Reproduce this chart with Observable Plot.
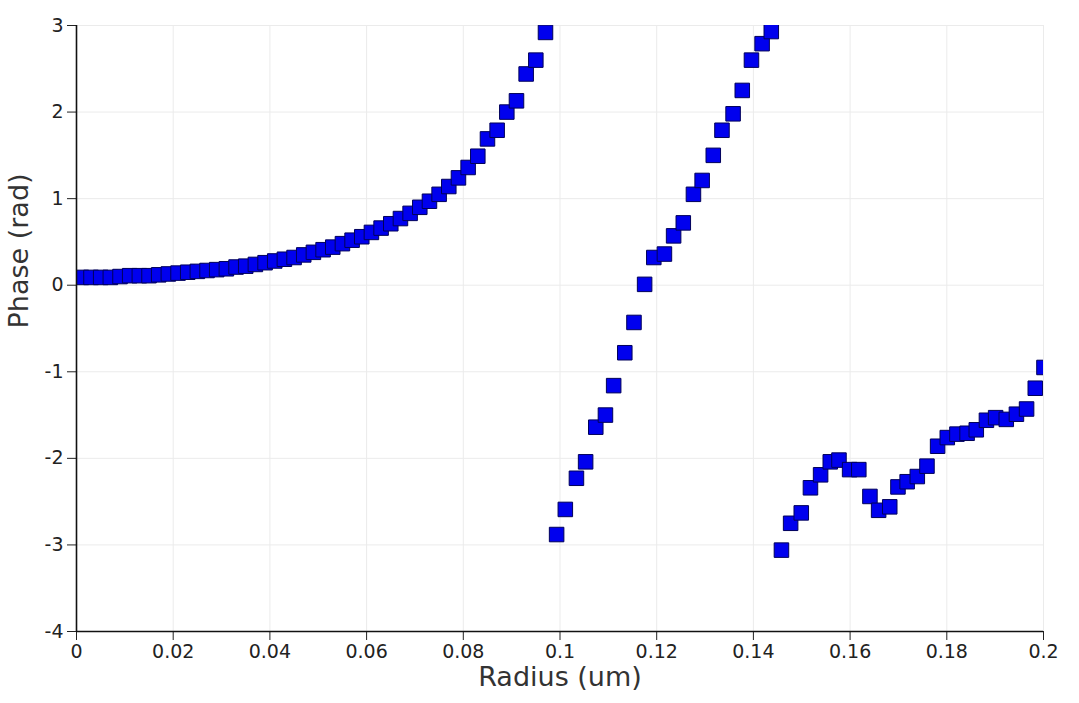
<!DOCTYPE html>
<html>
<head>
<meta charset="utf-8">
<script src="https://cdn.jsdelivr.net/npm/d3@7"></script>
<script src="https://cdn.jsdelivr.net/npm/@observablehq/plot@0.6"></script>
<style>
  html, body { margin: 0; padding: 0; background: #fff; }
  #chart svg { display: block; }
  #chart svg [aria-label^="x-axis"] text,
  #chart svg [aria-label^="y-axis"] text { font-size: 19px; fill: #222; }
</style>
</head>
<body>
<div id="chart"></div>
<script>
// Branch 1 (radius in um, phase in rad)
const branch1X = [0.001,0.003,0.005,0.007,0.009,0.011,0.013,0.015,0.017,0.019,
  0.021,0.023,0.025,0.027,0.029,0.031,0.033,0.035,0.037,0.039,
  0.041,0.043,0.045,0.047,0.049,0.051,0.053,0.055,0.057,0.059,
  0.061,0.063,0.065,0.067,0.069,0.071,0.073,0.075,0.077,0.079,
  0.081,0.083,0.085,0.087,0.089,0.091,0.093,0.095,0.097];
const branch1Y = [0.09,0.09,0.09,0.09,0.10,0.11,0.11,0.11,0.12,0.13,
  0.14,0.15,0.16,0.17,0.18,0.19,0.21,0.22,0.24,0.26,
  0.28,0.30,0.32,0.35,0.38,0.41,0.44,0.48,0.52,0.56,
  0.61,0.66,0.71,0.77,0.83,0.90,0.97,1.05,1.14,1.24,
  1.36,1.49,1.69,1.79,2.00,2.13,2.44,2.60,2.92];
// Branch 2
const branch2X = [0.0993,0.1011,0.1034,0.1053,0.1074,0.1094,0.1111,0.1134,0.1153,0.1175,
  0.1194,0.1216,0.1235,0.1255,0.1276,0.1294,0.1317,0.1335,0.1358,0.1377,
  0.1396,0.1418,0.1437];
const branch2Y = [-2.88,-2.59,-2.23,-2.04,-1.64,-1.50,-1.16,-0.78,-0.43,0.01,
  0.32,0.36,0.57,0.72,1.05,1.21,1.50,1.79,1.98,2.25,
  2.60,2.79,2.93];
// Branch 3
const branch3X = [0.1458,0.1477,0.1499,0.1518,0.1539,0.1559,0.1577,0.1599,0.1618,0.1641,
  0.1659,0.1682,0.1699,0.1718,0.1739,0.1759,0.1781,0.1801,0.1821,0.1842,
  0.1861,0.1882,0.1901,0.1923,0.1944,0.1965,0.1983,0.2001];
const branch3Y = [-3.06,-2.75,-2.63,-2.34,-2.19,-2.04,-2.02,-2.13,-2.13,-2.44,
  -2.60,-2.56,-2.33,-2.27,-2.21,-2.09,-1.86,-1.76,-1.72,-1.71,
  -1.67,-1.56,-1.53,-1.55,-1.49,-1.43,-1.19,-0.95];

const xTicks = [0,0.02,0.04,0.06,0.08,0.1,0.12,0.14,0.16,0.18,0.2];
const yTicks = [-4,-3,-2,-1,0,1,2,3];
const xLabel = "Radius (um)";
const yLabel = "Phase (rad)";

const points = [];
[[branch1X, branch1Y], [branch2X, branch2Y], [branch3X, branch3Y]].forEach(([xs, ys]) => {
  xs.forEach((x, i) => points.push({x, y: ys[i]}));
});

const chart = Plot.plot({
  width: 1079,
  height: 703,
  marginLeft: 76,
  marginRight: 36,
  marginTop: 25,
  marginBottom: 72,
  style: {fontFamily: "DejaVu Sans", fontSize: "19px", color: "#222", background: "#fff"},
  x: {domain: [0, 0.2], ticks: xTicks, tickSize: 9, tickPadding: 4,
      tickFormat: d => String(+d.toFixed(3)), label: null},
  y: {domain: [-4, 3], ticks: yTicks, tickSize: 9, tickPadding: 4,
      tickFormat: d => String(d), label: null},
  marks: [
    Plot.ruleX(xTicks, {stroke: "#ebebeb", strokeWidth: 1}),
    Plot.ruleY(yTicks, {stroke: "#ebebeb", strokeWidth: 1}),
    Plot.dot(points, {x: "x", y: "y", symbol: "square", r: 8.2,
      fill: "#0000ee", stroke: "#00005a", strokeWidth: 1, clip: true}),
    Plot.ruleY([-4], {stroke: "#111", strokeWidth: 1.6}),
    Plot.ruleX([0], {stroke: "#111", strokeWidth: 1.6}),
    Plot.text([xLabel], {text: d => d, frameAnchor: "bottom", dy: 54,
      fontSize: 27, fill: "#333"}),
    Plot.text([yLabel], {text: d => d, frameAnchor: "left", dx: -57, rotate: -90,
      fontSize: 27, fill: "#333"})
  ]
});
document.getElementById("chart").appendChild(chart);
</script>
</body>
</html>
